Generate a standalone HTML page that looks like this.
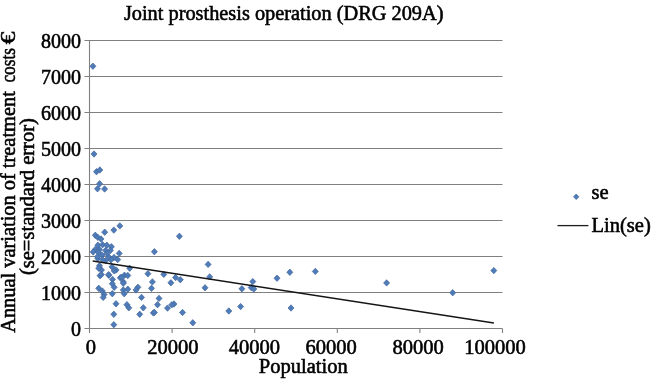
<!DOCTYPE html>
<html><head><meta charset="utf-8"><title>Joint prosthesis operation (DRG 209A)</title>
<style>html,body{margin:0;padding:0;background:#fff}svg{display:block}</style></head>
<body>
<svg width="651" height="384" viewBox="0 0 651 384">
<rect width="651" height="384" fill="#fff"/>
<g stroke="#808080" stroke-width="1.1" fill="none">
<line x1="84.5" y1="328.5" x2="502.5" y2="328.5"/>
<line x1="84.5" y1="292.5" x2="502.5" y2="292.5"/>
<line x1="84.5" y1="256.5" x2="502.5" y2="256.5"/>
<line x1="84.5" y1="220.5" x2="502.5" y2="220.5"/>
<line x1="84.5" y1="184.5" x2="502.5" y2="184.5"/>
<line x1="84.5" y1="148.5" x2="502.5" y2="148.5"/>
<line x1="84.5" y1="112.5" x2="502.5" y2="112.5"/>
<line x1="84.5" y1="76.5" x2="502.5" y2="76.5"/>
<line x1="84.5" y1="40.5" x2="502.5" y2="40.5"/>
<line x1="89.5" y1="40.5" x2="89.5" y2="333.0"/>
<line x1="172.1" y1="328.5" x2="172.1" y2="333.0"/>
<line x1="254.7" y1="328.5" x2="254.7" y2="333.0"/>
<line x1="337.3" y1="328.5" x2="337.3" y2="333.0"/>
<line x1="419.9" y1="328.5" x2="419.9" y2="333.0"/>
<line x1="502.5" y1="328.5" x2="502.5" y2="333.0"/>
</g>
<g fill="#4f7cb8" stroke="#41669c" stroke-width="0.7">
<path d="M92.9 63.0l3 3.2l-3 3.2l-3-3.2z"/>
<path d="M94.0 150.8l3 3.2l-3 3.2l-3-3.2z"/>
<path d="M96.5 168.5l3 3.2l-3 3.2l-3-3.2z"/>
<path d="M99.8 166.8l3 3.2l-3 3.2l-3-3.2z"/>
<path d="M99.6 180.6l3 3.2l-3 3.2l-3-3.2z"/>
<path d="M97.5 185.6l3 3.2l-3 3.2l-3-3.2z"/>
<path d="M104.6 185.8l3 3.2l-3 3.2l-3-3.2z"/>
<path d="M119.8 222.7l3 3.2l-3 3.2l-3-3.2z"/>
<path d="M113.8 226.9l3 3.2l-3 3.2l-3-3.2z"/>
<path d="M104.7 229.0l3 3.2l-3 3.2l-3-3.2z"/>
<path d="M95.3 232.1l3 3.2l-3 3.2l-3-3.2z"/>
<path d="M97.9 234.2l3 3.2l-3 3.2l-3-3.2z"/>
<path d="M101.0 235.8l3 3.2l-3 3.2l-3-3.2z"/>
<path d="M97.9 242.0l3 3.2l-3 3.2l-3-3.2z"/>
<path d="M102.6 241.5l3 3.2l-3 3.2l-3-3.2z"/>
<path d="M106.8 242.0l3 3.2l-3 3.2l-3-3.2z"/>
<path d="M111.4 243.6l3 3.2l-3 3.2l-3-3.2z"/>
<path d="M95.3 246.2l3 3.2l-3 3.2l-3-3.2z"/>
<path d="M99.5 246.2l3 3.2l-3 3.2l-3-3.2z"/>
<path d="M93.2 248.8l3 3.2l-3 3.2l-3-3.2z"/>
<path d="M105.7 247.2l3 3.2l-3 3.2l-3-3.2z"/>
<path d="M110.4 247.2l3 3.2l-3 3.2l-3-3.2z"/>
<path d="M119.2 250.2l3 3.2l-3 3.2l-3-3.2z"/>
<path d="M98.4 249.1l3 3.2l-3 3.2l-3-3.2z"/>
<path d="M102.0 251.7l3 3.2l-3 3.2l-3-3.2z"/>
<path d="M114.0 254.3l3 3.2l-3 3.2l-3-3.2z"/>
<path d="M108.8 253.8l3 3.2l-3 3.2l-3-3.2z"/>
<path d="M117.7 256.4l3 3.2l-3 3.2l-3-3.2z"/>
<path d="M105.7 257.4l3 3.2l-3 3.2l-3-3.2z"/>
<path d="M97.9 255.3l3 3.2l-3 3.2l-3-3.2z"/>
<path d="M99.5 262.6l3 3.2l-3 3.2l-3-3.2z"/>
<path d="M101.5 266.8l3 3.2l-3 3.2l-3-3.2z"/>
<path d="M112.0 263.7l3 3.2l-3 3.2l-3-3.2z"/>
<path d="M116.1 266.8l3 3.2l-3 3.2l-3-3.2z"/>
<path d="M100.0 272.5l3 3.2l-3 3.2l-3-3.2z"/>
<path d="M108.8 272.0l3 3.2l-3 3.2l-3-3.2z"/>
<path d="M112.5 276.2l3 3.2l-3 3.2l-3-3.2z"/>
<path d="M124.5 272.0l3 3.2l-3 3.2l-3-3.2z"/>
<path d="M120.3 274.6l3 3.2l-3 3.2l-3-3.2z"/>
<path d="M123.4 278.8l3 3.2l-3 3.2l-3-3.2z"/>
<path d="M129.7 265.0l3 3.2l-3 3.2l-3-3.2z"/>
<path d="M147.9 270.5l3 3.2l-3 3.2l-3-3.2z"/>
<path d="M152.4 278.7l3 3.2l-3 3.2l-3-3.2z"/>
<path d="M151.5 285.1l3 3.2l-3 3.2l-3-3.2z"/>
<path d="M137.9 284.1l3 3.2l-3 3.2l-3-3.2z"/>
<path d="M136.0 286.8l3 3.2l-3 3.2l-3-3.2z"/>
<path d="M127.8 272.3l3 3.2l-3 3.2l-3-3.2z"/>
<path d="M121.5 274.1l3 3.2l-3 3.2l-3-3.2z"/>
<path d="M123.3 280.1l3 3.2l-3 3.2l-3-3.2z"/>
<path d="M114.2 267.7l3 3.2l-3 3.2l-3-3.2z"/>
<path d="M108.7 271.4l3 3.2l-3 3.2l-3-3.2z"/>
<path d="M112.3 280.5l3 3.2l-3 3.2l-3-3.2z"/>
<path d="M114.2 284.1l3 3.2l-3 3.2l-3-3.2z"/>
<path d="M98.7 265.0l3 3.2l-3 3.2l-3-3.2z"/>
<path d="M101.4 271.4l3 3.2l-3 3.2l-3-3.2z"/>
<path d="M98.7 285.1l3 3.2l-3 3.2l-3-3.2z"/>
<path d="M102.3 287.8l3 3.2l-3 3.2l-3-3.2z"/>
<path d="M104.1 291.4l3 3.2l-3 3.2l-3-3.2z"/>
<path d="M103.2 294.2l3 3.2l-3 3.2l-3-3.2z"/>
<path d="M112.3 290.5l3 3.2l-3 3.2l-3-3.2z"/>
<path d="M123.3 286.8l3 3.2l-3 3.2l-3-3.2z"/>
<path d="M124.2 290.5l3 3.2l-3 3.2l-3-3.2z"/>
<path d="M127.8 286.0l3 3.2l-3 3.2l-3-3.2z"/>
<path d="M141.5 294.2l3 3.2l-3 3.2l-3-3.2z"/>
<path d="M116.0 300.6l3 3.2l-3 3.2l-3-3.2z"/>
<path d="M126.9 301.5l3 3.2l-3 3.2l-3-3.2z"/>
<path d="M128.8 304.6l3 3.2l-3 3.2l-3-3.2z"/>
<path d="M143.3 304.6l3 3.2l-3 3.2l-3-3.2z"/>
<path d="M153.4 309.7l3 3.2l-3 3.2l-3-3.2z"/>
<path d="M139.7 311.1l3 3.2l-3 3.2l-3-3.2z"/>
<path d="M113.8 311.1l3 3.2l-3 3.2l-3-3.2z"/>
<path d="M113.8 321.5l3 3.2l-3 3.2l-3-3.2z"/>
<path d="M179.4 233.1l3 3.2l-3 3.2l-3-3.2z"/>
<path d="M154.4 248.5l3 3.2l-3 3.2l-3-3.2z"/>
<path d="M208.1 261.2l3 3.2l-3 3.2l-3-3.2z"/>
<path d="M163.8 271.2l3 3.2l-3 3.2l-3-3.2z"/>
<path d="M175.6 274.3l3 3.2l-3 3.2l-3-3.2z"/>
<path d="M180.3 276.5l3 3.2l-3 3.2l-3-3.2z"/>
<path d="M209.7 273.7l3 3.2l-3 3.2l-3-3.2z"/>
<path d="M170.9 279.6l3 3.2l-3 3.2l-3-3.2z"/>
<path d="M205.0 284.6l3 3.2l-3 3.2l-3-3.2z"/>
<path d="M252.8 278.4l3 3.2l-3 3.2l-3-3.2z"/>
<path d="M241.9 285.6l3 3.2l-3 3.2l-3-3.2z"/>
<path d="M251.2 284.3l3 3.2l-3 3.2l-3-3.2z"/>
<path d="M253.8 285.8l3 3.2l-3 3.2l-3-3.2z"/>
<path d="M159.0 295.2l3 3.2l-3 3.2l-3-3.2z"/>
<path d="M157.5 301.5l3 3.2l-3 3.2l-3-3.2z"/>
<path d="M174.0 300.8l3 3.2l-3 3.2l-3-3.2z"/>
<path d="M167.5 304.9l3 3.2l-3 3.2l-3-3.2z"/>
<path d="M154.4 309.3l3 3.2l-3 3.2l-3-3.2z"/>
<path d="M182.5 309.3l3 3.2l-3 3.2l-3-3.2z"/>
<path d="M228.8 307.8l3 3.2l-3 3.2l-3-3.2z"/>
<path d="M240.6 303.4l3 3.2l-3 3.2l-3-3.2z"/>
<path d="M192.8 319.6l3 3.2l-3 3.2l-3-3.2z"/>
<path d="M106.9 250.3l3 3.2l-3 3.2l-3-3.2z"/>
<path d="M111.0 256.6l3 3.2l-3 3.2l-3-3.2z"/>
<path d="M102.7 256.6l3 3.2l-3 3.2l-3-3.2z"/>
<path d="M97.5 253.5l3 3.2l-3 3.2l-3-3.2z"/>
<path d="M171.8 301.6l3 3.2l-3 3.2l-3-3.2z"/>
<path d="M277.0 275.0l3 3.2l-3 3.2l-3-3.2z"/>
<path d="M289.8 269.1l3 3.2l-3 3.2l-3-3.2z"/>
<path d="M315.3 268.2l3 3.2l-3 3.2l-3-3.2z"/>
<path d="M291.0 304.8l3 3.2l-3 3.2l-3-3.2z"/>
<path d="M386.6 279.7l3 3.2l-3 3.2l-3-3.2z"/>
<path d="M452.7 289.5l3 3.2l-3 3.2l-3-3.2z"/>
<path d="M493.8 267.4l3 3.2l-3 3.2l-3-3.2z"/>
</g>
<line x1="92.7" y1="261.1" x2="493.9" y2="323.1" stroke="#151515" stroke-width="1.5"/>
<path d="M576.2 194l2.7 2.8l-2.7 2.8l-2.7-2.8z" fill="#4f7cb8" stroke="#41669c" stroke-width="0.7"/>
<line x1="557.5" y1="225.6" x2="588.4" y2="225.6" stroke="#1c1c1c" stroke-width="1.3"/>
<g font-family="'Liberation Serif', serif" font-size="20" fill="#000" stroke="#000" stroke-width="0.55">
<text transform="translate(123.9 19.7) scale(1.017,1)">Joint prosthesis operation (DRG 209A)</text>
<text transform="translate(81.0 336.3) scale(1.0,1)" text-anchor="end">0</text>
<text transform="translate(81.0 300.3) scale(1.0,1)" text-anchor="end">1000</text>
<text transform="translate(81.0 264.3) scale(1.0,1)" text-anchor="end">2000</text>
<text transform="translate(81.0 228.3) scale(1.0,1)" text-anchor="end">3000</text>
<text transform="translate(81.0 192.3) scale(1.0,1)" text-anchor="end">4000</text>
<text transform="translate(81.0 156.3) scale(1.0,1)" text-anchor="end">5000</text>
<text transform="translate(81.0 120.3) scale(1.0,1)" text-anchor="end">6000</text>
<text transform="translate(81.0 84.3) scale(1.0,1)" text-anchor="end">7000</text>
<text transform="translate(81.0 48.3) scale(1.0,1)" text-anchor="end">8000</text>
<text transform="translate(90.9 353.9) scale(1.027,1)" text-anchor="middle">0</text>
<text transform="translate(172.8 353.9) scale(1.027,1)" text-anchor="middle">20000</text>
<text transform="translate(254.4 353.9) scale(1.027,1)" text-anchor="middle">40000</text>
<text transform="translate(331.1 353.9) scale(1.027,1)" text-anchor="middle">60000</text>
<text transform="translate(418.1 353.9) scale(1.027,1)" text-anchor="middle">80000</text>
<text transform="translate(495.0 353.9) scale(1.027,1)" text-anchor="middle">100000</text>
<text transform="translate(303.3 373.0) scale(1.027,1)" text-anchor="middle">Population</text>
<text transform="translate(591.5 199.1) scale(1.027,1)">se</text>
<text transform="translate(591.5 231.9) scale(1.027,1)">Lin(se)</text>
<text transform="translate(15.1 332.8) rotate(-90) scale(1.019,1)">Annual variation of treatment</text>
<text transform="translate(15.1 82.6) rotate(-90) scale(0.865,1)">costs</text>
<text transform="translate(15.3 44.2) rotate(-90) scale(1.27,1)">€</text>
<text transform="translate(33.9 196.6) rotate(-90) scale(1.027,1)" text-anchor="middle">(se=standard error)</text>
</g>
</svg>
</body></html>
